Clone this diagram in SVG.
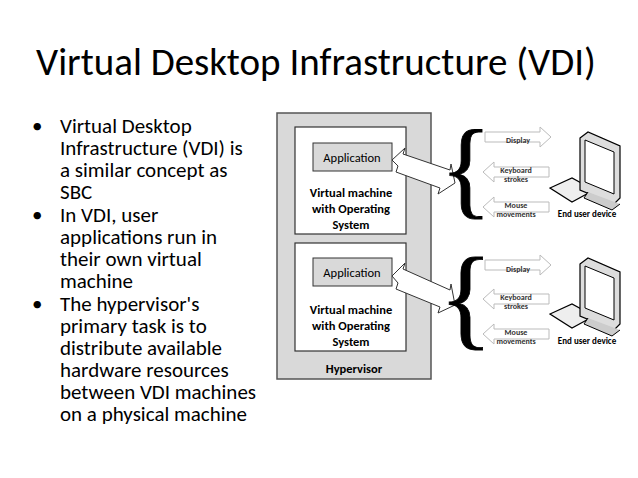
<svg xmlns="http://www.w3.org/2000/svg" width="638" height="478" viewBox="0 0 638 478">
<style>
.t{font-family:Calibri,Carlito,"Liberation Sans",sans-serif;fill:#000}
.b{font-size:21px}
.s{font-size:12.5px}
.vm{font-size:12.5px;font-weight:bold}
.sm{font-size:8px;fill:#333;font-weight:bold}
.sa{fill:#fff;stroke:#bbb;stroke-width:1}
</style>
<defs>
<g id="dev">
<path d="M0,56 L22,46 L44,58 L22,70 Z" fill="#eee" stroke="#000" stroke-width="1.2"/>
<path d="M30,6 L38,0 L70,14 L70,66 L64,72 L30,58 Z" fill="#ddd" stroke="#000" stroke-width="1.2"/>
<path d="M35,8 L64,20 L64,62 L35,50 Z" fill="#fff" stroke="#000"/>
<path d="M38,60 L34,66 L62,78 L70,72" fill="#ccc" stroke="#000"/>
</g>
<g id="sr"><path d="M0,5 H55 V0 L66,10 L55,20 V15 H0 Z"/></g>
<g id="sl"><path d="M66,5 H11 V0 L0,10 L11,20 V15 H66 Z"/></g>
</defs>
<text class="t" x="36" y="75" font-size="39">Virtual Desktop Infrastructure (VDI)</text>
<g id="bullets" class="t b">
<text x="32" y="133">•</text><text x="60" y="133">Virtual Desktop</text>
<text x="60" y="155">Infrastructure (VDI) is</text>
<text x="60" y="177">a similar concept as</text>
<text x="60" y="199">SBC</text>
<text x="32" y="222">•</text><text x="60" y="222">In VDI, user</text>
<text x="60" y="244">applications run in</text>
<text x="60" y="266">their own virtual</text>
<text x="60" y="288">machine</text>
<text x="32" y="311">•</text><text x="60" y="311">The hypervisor's</text>
<text x="60" y="333">primary task is to</text>
<text x="60" y="355">distribute available</text>
<text x="60" y="377">hardware resources</text>
<text x="60" y="399">between VDI machines</text>
<text x="60" y="421">on a physical machine</text>
</g>
<g id="hypervisor">
<rect x="277" y="113" width="154" height="266" fill="#d9d9d9" stroke="#555" stroke-width="1.5"/>
<text class="t vm" x="354" y="373" text-anchor="middle">Hypervisor</text>
</g>
<g id="vm1">
<rect x="295" y="127" width="111" height="107" fill="#fff" stroke="#333" stroke-width="1.2"/>
<rect x="313" y="143" width="79" height="28" fill="#d9d9d9" stroke="#333"/>
<text class="t s" x="352" y="162" text-anchor="middle">Application</text>
<text class="t vm" x="351" y="197" text-anchor="middle">Virtual machine</text>
<text class="t vm" x="351" y="213" text-anchor="middle">with Operating</text>
<text class="t vm" x="351" y="229" text-anchor="middle">System</text>
</g>
<g id="vm2">
<rect x="295" y="243" width="111" height="108" fill="#fff" stroke="#333" stroke-width="1.2"/>
<rect x="313" y="258" width="79" height="28" fill="#d9d9d9" stroke="#333"/>
<text class="t s" x="352" y="277" text-anchor="middle">Application</text>
<text class="t vm" x="351" y="314" text-anchor="middle">Virtual machine</text>
<text class="t vm" x="351" y="330" text-anchor="middle">with Operating</text>
<text class="t vm" x="351" y="346" text-anchor="middle">System</text>
</g>
<g id="connectors">
<path d="M392,160 L405,148 L403,154 L450,170 L451,164 L455,183 L438,194 L440,188 L396,172 L398,166 Z" fill="#fff" stroke="#333"/>
<path d="M392,276 L405,263 L403,269 L450,290 L451,284 L455,305 L438,313 L440,307 L396,289 L398,283 Z" fill="#fff" stroke="#333"/>
<text x="466" y="205" font-family="Liberation Serif,serif" font-size="108" text-anchor="middle" stroke="#000" stroke-width="0.8">{</text>
<text x="466" y="335" font-family="Liberation Serif,serif" font-size="112" text-anchor="middle" stroke="#000" stroke-width="0.8">{</text>
</g>
<g id="user1">
<use href="#sr" x="485" y="127" class="sa"/>
<text class="t sm" x="518" y="143" text-anchor="middle">Display</text>
<use href="#sl" x="483" y="162" class="sa"/>
<text class="t sm" x="516" y="173" text-anchor="middle">Keyboard</text>
<text class="t sm" x="516" y="182" text-anchor="middle">strokes</text>
<use href="#sl" x="483" y="197" class="sa"/>
<text class="t sm" x="516" y="208" text-anchor="middle">Mouse</text>
<text class="t sm" x="516" y="217" text-anchor="middle">movements</text>
<use href="#dev" x="550" y="132"/>
<text class="t" x="587" y="217" font-size="9" font-weight="bold" text-anchor="middle">End user device</text>
</g>
<g id="user2">
<use href="#sr" x="485" y="255" class="sa"/>
<text class="t sm" x="518" y="272" text-anchor="middle">Display</text>
<use href="#sl" x="483" y="289" class="sa"/>
<text class="t sm" x="516" y="300" text-anchor="middle">Keyboard</text>
<text class="t sm" x="516" y="309" text-anchor="middle">strokes</text>
<use href="#sl" x="483" y="324" class="sa"/>
<text class="t sm" x="516" y="335" text-anchor="middle">Mouse</text>
<text class="t sm" x="516" y="344" text-anchor="middle">movements</text>
<use href="#dev" x="550" y="258"/>
<text class="t" x="587" y="344" font-size="9" font-weight="bold" text-anchor="middle">End user device</text>
</g>
</svg>
